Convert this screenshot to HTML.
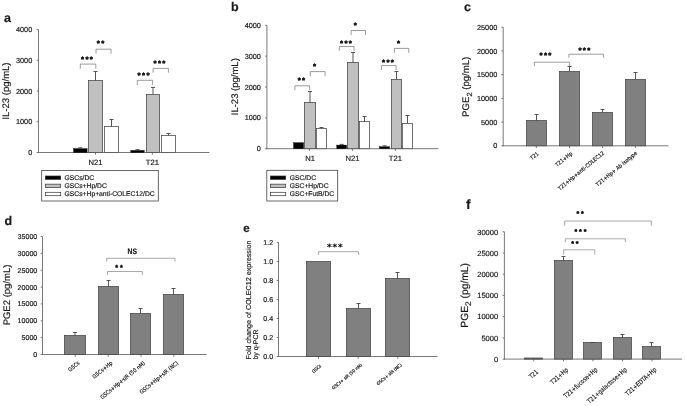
<!DOCTYPE html>
<html lang="en">
<head>
<meta charset="utf-8">
<title>Figure</title>
<style>
html,body{margin:0;padding:0;background:#fff;}
body{width:685px;height:406px;overflow:hidden;font-family:"Liberation Sans",Arial,sans-serif;}
svg{display:block;}
text{stroke:#1a1a1a;stroke-width:0.18px;text-rendering:geometricPrecision;}
.ls{font-family:"Liberation Sans",Arial,Helvetica,sans-serif;}
.dvc{font-family:"DejaVu Sans Condensed","DejaVu Sans","Liberation Sans",sans-serif;}
.dv{font-family:"DejaVu Sans","Liberation Sans",sans-serif;}
</style>
</head>
<body>
<svg width="685" height="406" viewBox="0 0 685 406">
<rect x="0" y="0" width="685" height="406" fill="#ffffff"/>
<g id="pa">
<text x="4" y="22" font-size="12.5" text-anchor="start" font-weight="bold" class="ls" fill="#1a1a1a" >a</text>
<line x1="38.5" y1="29.5" x2="38.5" y2="153.0" stroke="#6a6a6a" stroke-width="0.9"/>
<line x1="36.7" y1="29.5" x2="38.5" y2="29.5" stroke="#6a6a6a" stroke-width="0.9"/>
<text x="32.2" y="32.128" font-size="7.3" text-anchor="end" font-weight="normal" class="ls" fill="#1a1a1a" >4000</text>
<line x1="36.7" y1="60.25" x2="38.5" y2="60.25" stroke="#6a6a6a" stroke-width="0.9"/>
<text x="32.2" y="62.878" font-size="7.3" text-anchor="end" font-weight="normal" class="ls" fill="#1a1a1a" >3000</text>
<line x1="36.7" y1="91.0" x2="38.5" y2="91.0" stroke="#6a6a6a" stroke-width="0.9"/>
<text x="32.2" y="93.628" font-size="7.3" text-anchor="end" font-weight="normal" class="ls" fill="#1a1a1a" >2000</text>
<line x1="36.7" y1="121.75" x2="38.5" y2="121.75" stroke="#6a6a6a" stroke-width="0.9"/>
<text x="32.2" y="124.378" font-size="7.3" text-anchor="end" font-weight="normal" class="ls" fill="#1a1a1a" >1000</text>
<line x1="36.7" y1="152.5" x2="38.5" y2="152.5" stroke="#6a6a6a" stroke-width="0.9"/>
<text x="32.2" y="155.128" font-size="7.3" text-anchor="end" font-weight="normal" class="ls" fill="#1a1a1a" >0</text>
<line x1="38.0" y1="152.5" x2="209.5" y2="152.5" stroke="#6a6a6a" stroke-width="0.9"/>
<line x1="95.5" y1="152.5" x2="95.5" y2="154.7" stroke="#6a6a6a" stroke-width="0.9"/>
<line x1="152.4" y1="152.5" x2="152.4" y2="154.7" stroke="#6a6a6a" stroke-width="0.9"/>
<text transform="translate(9.0,91) rotate(-90)" font-size="9.5" text-anchor="middle" font-weight="normal" class="ls" fill="#1a1a1a" >IL-23 (pg/mL)</text>
<rect x="73.6" y="148.6" width="13.50" height="3.90" fill="#000" stroke="#000" stroke-width="0.4"/>
<line x1="80.35" y1="147.8" x2="80.35" y2="148.6" stroke="#444" stroke-width="0.9"/>
<line x1="78.35" y1="147.8" x2="82.35" y2="147.8" stroke="#444" stroke-width="0.9"/>
<rect x="88.5" y="80.5" width="14.00" height="72.00" fill="#c0c0c0" stroke="#444" stroke-width="0.75"/>
<line x1="95.5" y1="71.5" x2="95.5" y2="80.5" stroke="#444" stroke-width="0.9"/>
<line x1="93.5" y1="71.5" x2="97.5" y2="71.5" stroke="#444" stroke-width="0.9"/>
<rect x="104.5" y="126.5" width="14.00" height="26.00" fill="#fff" stroke="#444" stroke-width="0.75"/>
<line x1="111.5" y1="119.5" x2="111.5" y2="126.5" stroke="#444" stroke-width="0.9"/>
<line x1="109.5" y1="119.5" x2="113.5" y2="119.5" stroke="#444" stroke-width="0.9"/>
<rect x="130.8" y="150.4" width="13.40" height="2.10" fill="#000" stroke="#000" stroke-width="0.4"/>
<line x1="137.5" y1="149.6" x2="137.5" y2="150.4" stroke="#444" stroke-width="0.9"/>
<line x1="135.5" y1="149.6" x2="139.5" y2="149.6" stroke="#444" stroke-width="0.9"/>
<rect x="146.5" y="94.5" width="13.00" height="58.00" fill="#c0c0c0" stroke="#444" stroke-width="0.75"/>
<line x1="153.0" y1="87.5" x2="153.0" y2="94.5" stroke="#444" stroke-width="0.9"/>
<line x1="151.0" y1="87.5" x2="155.0" y2="87.5" stroke="#444" stroke-width="0.9"/>
<rect x="161.5" y="135.5" width="14.00" height="17.00" fill="#fff" stroke="#444" stroke-width="0.75"/>
<line x1="168.5" y1="133.5" x2="168.5" y2="135.5" stroke="#444" stroke-width="0.9"/>
<line x1="166.5" y1="133.5" x2="170.5" y2="133.5" stroke="#444" stroke-width="0.9"/>
<text x="95.5" y="164.8" font-size="7.6" text-anchor="middle" font-weight="normal" class="ls" fill="#1a1a1a" >N21</text>
<text x="152.4" y="164.8" font-size="7.6" text-anchor="middle" font-weight="normal" class="ls" fill="#1a1a1a" >T21</text>
<polyline points="80.3,68.69999999999999 80.3,64.1 95.8,64.1 95.8,68.69999999999999" fill="none" stroke="#666" stroke-width="0.65"/>
<text x="82.50 86.95 91.40" y="61.51" font-size="7.9" text-anchor="middle" font-weight="bold" class="ls" fill="#000" style="stroke:#000;stroke-width:0.4px">***</text>
<polyline points="96.0,53.7 96.0,49.2 111,49.2 111,53.7" fill="none" stroke="#666" stroke-width="0.65"/>
<text x="98.30 102.75" y="46.31" font-size="7.9" text-anchor="middle" font-weight="bold" class="ls" fill="#000" style="stroke:#000;stroke-width:0.4px">**</text>
<polyline points="137.3,84.89999999999999 137.3,80.3 152.6,80.3 152.6,84.89999999999999" fill="none" stroke="#666" stroke-width="0.65"/>
<text x="139.05 143.50 147.95" y="78.11" font-size="7.9" text-anchor="middle" font-weight="bold" class="ls" fill="#000" style="stroke:#000;stroke-width:0.4px">***</text>
<polyline points="153.1,72.7 153.1,68.4 168.4,68.4 168.4,72.7" fill="none" stroke="#666" stroke-width="0.65"/>
<text x="155.00 159.45 163.90" y="65.61" font-size="7.9" text-anchor="middle" font-weight="bold" class="ls" fill="#000" style="stroke:#000;stroke-width:0.4px">***</text>
<rect x="41.7" y="170.4" width="116.6" height="30.6" fill="#fff" stroke="#444" stroke-width="0.8"/>
<rect x="45.3" y="176.0" width="15.4" height="3.4" fill="#000" stroke="#333" stroke-width="0.7"/>
<text x="64.6" y="180.14999999999998" font-size="6.75" text-anchor="start" font-weight="normal" class="ls" fill="#1a1a1a" >GSCs/DC</text>
<rect x="45.3" y="184.15" width="15.4" height="3.4" fill="#c0c0c0" stroke="#333" stroke-width="0.7"/>
<text x="64.6" y="188.29999999999998" font-size="6.75" text-anchor="start" font-weight="normal" class="ls" fill="#1a1a1a" >GSCs+Hp/DC</text>
<rect x="45.3" y="192.3" width="15.4" height="3.4" fill="#fff" stroke="#333" stroke-width="0.7"/>
<text x="64.6" y="196.45" font-size="6.75" text-anchor="start" font-weight="normal" class="ls" fill="#1a1a1a" >GSCs+Hp+anti-COLEC12/DC</text>
</g>
<g id="pb">
<text x="231" y="11.4" font-size="12.5" text-anchor="start" font-weight="bold" class="ls" fill="#1a1a1a" >b</text>
<line x1="266.9" y1="25.3" x2="266.9" y2="149.2" stroke="#6a6a6a" stroke-width="0.9"/>
<line x1="265.09999999999997" y1="25.3" x2="266.9" y2="25.3" stroke="#6a6a6a" stroke-width="0.9"/>
<text x="260.9" y="27.928" font-size="7.3" text-anchor="end" font-weight="normal" class="ls" fill="#1a1a1a" >4000</text>
<line x1="265.09999999999997" y1="56.15" x2="266.9" y2="56.15" stroke="#6a6a6a" stroke-width="0.9"/>
<text x="260.9" y="58.778" font-size="7.3" text-anchor="end" font-weight="normal" class="ls" fill="#1a1a1a" >3000</text>
<line x1="265.09999999999997" y1="87.0" x2="266.9" y2="87.0" stroke="#6a6a6a" stroke-width="0.9"/>
<text x="260.9" y="89.628" font-size="7.3" text-anchor="end" font-weight="normal" class="ls" fill="#1a1a1a" >2000</text>
<line x1="265.09999999999997" y1="117.85" x2="266.9" y2="117.85" stroke="#6a6a6a" stroke-width="0.9"/>
<text x="260.9" y="120.478" font-size="7.3" text-anchor="end" font-weight="normal" class="ls" fill="#1a1a1a" >1000</text>
<line x1="265.09999999999997" y1="148.7" x2="266.9" y2="148.7" stroke="#6a6a6a" stroke-width="0.9"/>
<text x="260.9" y="151.32799999999997" font-size="7.3" text-anchor="end" font-weight="normal" class="ls" fill="#1a1a1a" >0</text>
<line x1="266.4" y1="148.7" x2="438.4" y2="148.7" stroke="#6a6a6a" stroke-width="0.9"/>
<line x1="309.4" y1="148.7" x2="309.4" y2="150.89999999999998" stroke="#6a6a6a" stroke-width="0.9"/>
<line x1="352.4" y1="148.7" x2="352.4" y2="150.89999999999998" stroke="#6a6a6a" stroke-width="0.9"/>
<line x1="395.4" y1="148.7" x2="395.4" y2="150.89999999999998" stroke="#6a6a6a" stroke-width="0.9"/>
<text transform="translate(238.3,86.7) rotate(-90)" font-size="9.5" text-anchor="middle" font-weight="normal" class="ls" fill="#1a1a1a" >IL-23 (pg/mL)</text>
<rect x="293.6" y="142.7" width="10.00" height="6.00" fill="#000" stroke="#000" stroke-width="0.4"/>
<rect x="304.5" y="102.5" width="11.00" height="46.20" fill="#c0c0c0" stroke="#444" stroke-width="0.75"/>
<line x1="310.0" y1="91.5" x2="310.0" y2="102.5" stroke="#444" stroke-width="0.9"/>
<line x1="308.0" y1="91.5" x2="312.0" y2="91.5" stroke="#444" stroke-width="0.9"/>
<rect x="316.5" y="128.5" width="10.00" height="20.20" fill="#fff" stroke="#444" stroke-width="0.75"/>
<line x1="321.5" y1="127.5" x2="321.5" y2="128.5" stroke="#444" stroke-width="0.9"/>
<line x1="319.5" y1="127.5" x2="323.5" y2="127.5" stroke="#444" stroke-width="0.9"/>
<rect x="336.8" y="145.1" width="9.80" height="3.60" fill="#000" stroke="#000" stroke-width="0.4"/>
<line x1="341.70000000000005" y1="144.4" x2="341.70000000000005" y2="145.1" stroke="#444" stroke-width="0.9"/>
<line x1="339.70000000000005" y1="144.4" x2="343.70000000000005" y2="144.4" stroke="#444" stroke-width="0.9"/>
<rect x="347.5" y="62.5" width="11.00" height="86.20" fill="#c0c0c0" stroke="#444" stroke-width="0.75"/>
<line x1="353.0" y1="52.5" x2="353.0" y2="62.5" stroke="#444" stroke-width="0.9"/>
<line x1="351.0" y1="52.5" x2="355.0" y2="52.5" stroke="#444" stroke-width="0.9"/>
<rect x="359.5" y="121.5" width="10.00" height="27.20" fill="#fff" stroke="#444" stroke-width="0.75"/>
<line x1="364.5" y1="116.5" x2="364.5" y2="121.5" stroke="#444" stroke-width="0.9"/>
<line x1="362.5" y1="116.5" x2="366.5" y2="116.5" stroke="#444" stroke-width="0.9"/>
<rect x="379.5" y="146.7" width="10.10" height="2.00" fill="#000" stroke="#000" stroke-width="0.4"/>
<line x1="384.55" y1="145.8" x2="384.55" y2="146.7" stroke="#444" stroke-width="0.9"/>
<line x1="382.55" y1="145.8" x2="386.55" y2="145.8" stroke="#444" stroke-width="0.9"/>
<rect x="391.5" y="79.5" width="10.00" height="69.20" fill="#c0c0c0" stroke="#444" stroke-width="0.75"/>
<line x1="396.5" y1="71.5" x2="396.5" y2="79.5" stroke="#444" stroke-width="0.9"/>
<line x1="394.5" y1="71.5" x2="398.5" y2="71.5" stroke="#444" stroke-width="0.9"/>
<rect x="402.5" y="123.5" width="10.00" height="25.20" fill="#fff" stroke="#444" stroke-width="0.75"/>
<line x1="407.5" y1="115.5" x2="407.5" y2="123.5" stroke="#444" stroke-width="0.9"/>
<line x1="405.5" y1="115.5" x2="409.5" y2="115.5" stroke="#444" stroke-width="0.9"/>
<text x="310.1" y="161.3" font-size="7.6" text-anchor="middle" font-weight="normal" class="ls" fill="#1a1a1a" >N1</text>
<text x="352.4" y="161.3" font-size="7.6" text-anchor="middle" font-weight="normal" class="ls" fill="#1a1a1a" >N21</text>
<text x="395.4" y="161.3" font-size="7.6" text-anchor="middle" font-weight="normal" class="ls" fill="#1a1a1a" >T21</text>
<polyline points="294.9,90.1 294.9,85.8 309.7,85.8 309.7,90.1" fill="none" stroke="#666" stroke-width="0.65"/>
<text x="299.20 303.65" y="83.21" font-size="7.9" text-anchor="middle" font-weight="bold" class="ls" fill="#000" style="stroke:#000;stroke-width:0.4px">**</text>
<polyline points="310.3,76.1 310.3,71.6 325.1,71.6 325.1,76.1" fill="none" stroke="#666" stroke-width="0.65"/>
<text x="314.60" y="69.21" font-size="7.9" text-anchor="middle" font-weight="bold" class="ls" fill="#000" style="stroke:#000;stroke-width:0.4px">*</text>
<polyline points="339.3,50.8 339.3,46.5 354,46.5 354,50.8" fill="none" stroke="#666" stroke-width="0.65"/>
<text x="341.50 345.95 350.40" y="45.81" font-size="7.9" text-anchor="middle" font-weight="bold" class="ls" fill="#000" style="stroke:#000;stroke-width:0.4px">***</text>
<polyline points="351.1,35.0 351.1,30.5 365.5,30.5 365.5,35.0" fill="none" stroke="#666" stroke-width="0.65"/>
<text x="355.40" y="28.01" font-size="7.9" text-anchor="middle" font-weight="bold" class="ls" fill="#000" style="stroke:#000;stroke-width:0.4px">*</text>
<polyline points="381.4,70.1 381.4,65.6 396.1,65.6 396.1,70.1" fill="none" stroke="#666" stroke-width="0.65"/>
<text x="383.50 387.95 392.40" y="65.21" font-size="7.9" text-anchor="middle" font-weight="bold" class="ls" fill="#000" style="stroke:#000;stroke-width:0.4px">***</text>
<polyline points="394.4,52.8 394.4,48.4 408.8,48.4 408.8,52.8" fill="none" stroke="#666" stroke-width="0.65"/>
<text x="398.60" y="45.81" font-size="7.9" text-anchor="middle" font-weight="bold" class="ls" fill="#000" style="stroke:#000;stroke-width:0.4px">*</text>
<rect x="266.8" y="170.3" width="70.9" height="30.7" fill="#fff" stroke="#444" stroke-width="0.8"/>
<rect x="270.4" y="176.0" width="15.3" height="3.4" fill="#000" stroke="#333" stroke-width="0.7"/>
<text x="289.8" y="180.14999999999998" font-size="6.75" text-anchor="start" font-weight="normal" class="ls" fill="#1a1a1a" >GSC/DC</text>
<rect x="270.4" y="184.15" width="15.3" height="3.4" fill="#c0c0c0" stroke="#333" stroke-width="0.7"/>
<text x="289.8" y="188.29999999999998" font-size="6.75" text-anchor="start" font-weight="normal" class="ls" fill="#1a1a1a" >GSC+Hp/DC</text>
<rect x="270.4" y="192.3" width="15.3" height="3.4" fill="#fff" stroke="#333" stroke-width="0.7"/>
<text x="289.8" y="196.45" font-size="6.75" text-anchor="start" font-weight="normal" class="ls" fill="#1a1a1a" >GSC+FutB/DC</text>
</g>
<g id="pc">
<text x="464" y="10.8" font-size="12.5" text-anchor="start" font-weight="bold" class="ls" fill="#1a1a1a" >c</text>
<line x1="503.2" y1="27.2" x2="503.2" y2="146.3" stroke="#6a6a6a" stroke-width="0.9"/>
<line x1="501.4" y1="27.2" x2="503.2" y2="27.2" stroke="#6a6a6a" stroke-width="0.9"/>
<text x="497.3" y="29.828" font-size="7.3" text-anchor="end" font-weight="normal" class="ls" fill="#1a1a1a" >25000</text>
<line x1="501.4" y1="50.92" x2="503.2" y2="50.92" stroke="#6a6a6a" stroke-width="0.9"/>
<text x="497.3" y="53.548" font-size="7.3" text-anchor="end" font-weight="normal" class="ls" fill="#1a1a1a" >20000</text>
<line x1="501.4" y1="74.64" x2="503.2" y2="74.64" stroke="#6a6a6a" stroke-width="0.9"/>
<text x="497.3" y="77.268" font-size="7.3" text-anchor="end" font-weight="normal" class="ls" fill="#1a1a1a" >15000</text>
<line x1="501.4" y1="98.36" x2="503.2" y2="98.36" stroke="#6a6a6a" stroke-width="0.9"/>
<text x="497.3" y="100.988" font-size="7.3" text-anchor="end" font-weight="normal" class="ls" fill="#1a1a1a" >10000</text>
<line x1="501.4" y1="122.08" x2="503.2" y2="122.08" stroke="#6a6a6a" stroke-width="0.9"/>
<text x="497.3" y="124.708" font-size="7.3" text-anchor="end" font-weight="normal" class="ls" fill="#1a1a1a" >5000</text>
<line x1="501.4" y1="145.8" x2="503.2" y2="145.8" stroke="#6a6a6a" stroke-width="0.9"/>
<text x="497.3" y="148.428" font-size="7.3" text-anchor="end" font-weight="normal" class="ls" fill="#1a1a1a" >0</text>
<line x1="502.7" y1="145.8" x2="668.4" y2="145.8" stroke="#6a6a6a" stroke-width="0.9"/>
<line x1="536.3" y1="145.8" x2="536.3" y2="148.0" stroke="#6a6a6a" stroke-width="0.9"/>
<line x1="569.5" y1="145.8" x2="569.5" y2="148.0" stroke="#6a6a6a" stroke-width="0.9"/>
<line x1="602.5" y1="145.8" x2="602.5" y2="148.0" stroke="#6a6a6a" stroke-width="0.9"/>
<line x1="635.6" y1="145.8" x2="635.6" y2="148.0" stroke="#6a6a6a" stroke-width="0.9"/>
<text transform="translate(468.9,86.8) rotate(-90)" font-size="9.6" text-anchor="middle" class="ls" fill="#1a1a1a">PGE<tspan font-size="7.5" dy="3">2</tspan><tspan dy="-3"> (pg/mL)</tspan></text>
<rect x="526.5" y="120.5" width="20.00" height="25.30" fill="#808080" stroke="#444" stroke-width="0.75"/>
<line x1="536.5" y1="114.5" x2="536.5" y2="120.5" stroke="#444" stroke-width="0.9"/>
<line x1="534.5" y1="114.5" x2="538.5" y2="114.5" stroke="#444" stroke-width="0.9"/>
<rect x="559.5" y="71.5" width="20.00" height="74.30" fill="#808080" stroke="#444" stroke-width="0.75"/>
<line x1="569.5" y1="66.5" x2="569.5" y2="71.5" stroke="#444" stroke-width="0.9"/>
<line x1="567.5" y1="66.5" x2="571.5" y2="66.5" stroke="#444" stroke-width="0.9"/>
<rect x="592.5" y="112.5" width="20.00" height="33.30" fill="#808080" stroke="#444" stroke-width="0.75"/>
<line x1="602.5" y1="109.5" x2="602.5" y2="112.5" stroke="#444" stroke-width="0.9"/>
<line x1="600.5" y1="109.5" x2="604.5" y2="109.5" stroke="#444" stroke-width="0.9"/>
<rect x="625.5" y="79.5" width="20.00" height="66.30" fill="#808080" stroke="#444" stroke-width="0.75"/>
<line x1="635.5" y1="72.5" x2="635.5" y2="79.5" stroke="#444" stroke-width="0.9"/>
<line x1="633.5" y1="72.5" x2="637.5" y2="72.5" stroke="#444" stroke-width="0.9"/>
<polyline points="534.4,65.9 534.4,62.2 569.4,62.2 569.4,66.8" fill="none" stroke="#666" stroke-width="0.65"/>
<text x="541.10 545.50 549.90" y="57.91" font-size="7.9" text-anchor="middle" font-weight="bold" class="ls" fill="#000" style="stroke:#000;stroke-width:0.4px">***</text>
<polyline points="568.9,57.6 568.9,54.2 603.6,54.2 603.6,57.6" fill="none" stroke="#666" stroke-width="0.65"/>
<text x="580.00 584.40 588.80" y="52.51" font-size="7.9" text-anchor="middle" font-weight="bold" class="ls" fill="#000" style="stroke:#000;stroke-width:0.4px">***</text>
<text transform="translate(539.1,154.4) rotate(-39.5)" font-size="5.45" text-anchor="end" font-weight="normal" class="dvc" fill="#1a1a1a" >T21</text>
<text transform="translate(572.8,154.2) rotate(-39.5)" font-size="5.45" text-anchor="end" font-weight="normal" class="dvc" fill="#1a1a1a" >T21+Hp</text>
<text transform="translate(604.7,153.7) rotate(-39.5)" font-size="5.45" text-anchor="end" font-weight="normal" class="dvc" fill="#1a1a1a" >T21+Hp+anti-COLEC12</text>
<text transform="translate(637.6,153.9) rotate(-39.5)" font-size="5.45" text-anchor="end" font-weight="normal" class="dvc" fill="#1a1a1a" >T21+Hp+ Ab isotype</text>
</g>
<g id="pd">
<text x="4.6" y="224.6" font-size="12.5" text-anchor="start" font-weight="bold" class="ls" fill="#1a1a1a" >d</text>
<line x1="42.5" y1="236.5" x2="42.5" y2="355.0" stroke="#6a6a6a" stroke-width="0.9"/>
<line x1="40.7" y1="236.5" x2="42.5" y2="236.5" stroke="#6a6a6a" stroke-width="0.9"/>
<text x="37.3" y="239.056" font-size="7.1" text-anchor="end" font-weight="normal" class="ls" fill="#1a1a1a" >35000</text>
<line x1="40.7" y1="253.36" x2="42.5" y2="253.36" stroke="#6a6a6a" stroke-width="0.9"/>
<text x="37.3" y="255.91600000000003" font-size="7.1" text-anchor="end" font-weight="normal" class="ls" fill="#1a1a1a" >30000</text>
<line x1="40.7" y1="270.21" x2="42.5" y2="270.21" stroke="#6a6a6a" stroke-width="0.9"/>
<text x="37.3" y="272.76599999999996" font-size="7.1" text-anchor="end" font-weight="normal" class="ls" fill="#1a1a1a" >25000</text>
<line x1="40.7" y1="287.07" x2="42.5" y2="287.07" stroke="#6a6a6a" stroke-width="0.9"/>
<text x="37.3" y="289.626" font-size="7.1" text-anchor="end" font-weight="normal" class="ls" fill="#1a1a1a" >20000</text>
<line x1="40.7" y1="303.93" x2="42.5" y2="303.93" stroke="#6a6a6a" stroke-width="0.9"/>
<text x="37.3" y="306.486" font-size="7.1" text-anchor="end" font-weight="normal" class="ls" fill="#1a1a1a" >15000</text>
<line x1="40.7" y1="320.79" x2="42.5" y2="320.79" stroke="#6a6a6a" stroke-width="0.9"/>
<text x="37.3" y="323.346" font-size="7.1" text-anchor="end" font-weight="normal" class="ls" fill="#1a1a1a" >10000</text>
<line x1="40.7" y1="337.64" x2="42.5" y2="337.64" stroke="#6a6a6a" stroke-width="0.9"/>
<text x="37.3" y="340.19599999999997" font-size="7.1" text-anchor="end" font-weight="normal" class="ls" fill="#1a1a1a" >5000</text>
<line x1="40.7" y1="354.5" x2="42.5" y2="354.5" stroke="#6a6a6a" stroke-width="0.9"/>
<text x="37.3" y="357.056" font-size="7.1" text-anchor="end" font-weight="normal" class="ls" fill="#1a1a1a" >0</text>
<line x1="42.0" y1="354.5" x2="206.6" y2="354.5" stroke="#6a6a6a" stroke-width="0.9"/>
<line x1="75.2" y1="354.5" x2="75.2" y2="356.7" stroke="#6a6a6a" stroke-width="0.9"/>
<line x1="108.2" y1="354.5" x2="108.2" y2="356.7" stroke="#6a6a6a" stroke-width="0.9"/>
<line x1="141" y1="354.5" x2="141" y2="356.7" stroke="#6a6a6a" stroke-width="0.9"/>
<line x1="173.8" y1="354.5" x2="173.8" y2="356.7" stroke="#6a6a6a" stroke-width="0.9"/>
<text transform="translate(9.9,295) rotate(-90)" font-size="9.5" text-anchor="middle" font-weight="normal" class="ls" fill="#1a1a1a" >PGE2 (pg/mL)</text>
<rect x="64.5" y="335.5" width="21.00" height="19.00" fill="#808080" stroke="#444" stroke-width="0.75"/>
<line x1="75.0" y1="332.5" x2="75.0" y2="335.5" stroke="#444" stroke-width="0.9"/>
<line x1="73.0" y1="332.5" x2="77.0" y2="332.5" stroke="#444" stroke-width="0.9"/>
<rect x="98.5" y="286.5" width="20.00" height="68.00" fill="#808080" stroke="#444" stroke-width="0.75"/>
<line x1="108.5" y1="280.5" x2="108.5" y2="286.5" stroke="#444" stroke-width="0.9"/>
<line x1="106.5" y1="280.5" x2="110.5" y2="280.5" stroke="#444" stroke-width="0.9"/>
<rect x="130.5" y="313.5" width="20.00" height="41.00" fill="#808080" stroke="#444" stroke-width="0.75"/>
<line x1="140.5" y1="308.5" x2="140.5" y2="313.5" stroke="#444" stroke-width="0.9"/>
<line x1="138.5" y1="308.5" x2="142.5" y2="308.5" stroke="#444" stroke-width="0.9"/>
<rect x="163.5" y="294.5" width="20.00" height="60.00" fill="#808080" stroke="#444" stroke-width="0.75"/>
<line x1="173.5" y1="288.5" x2="173.5" y2="294.5" stroke="#444" stroke-width="0.9"/>
<line x1="171.5" y1="288.5" x2="175.5" y2="288.5" stroke="#444" stroke-width="0.9"/>
<polyline points="106.7,261.6 106.7,258.3 175,258.3 175,261.6" fill="none" stroke="#9a9a9a" stroke-width="0.85"/>
<text x="127.6" y="253.6" font-size="7.9" text-anchor="start" font-weight="bold" class="ls" fill="#1a1a1a" textLength="9.4" lengthAdjust="spacingAndGlyphs">NS</text>
<polyline points="107.4,275.0 107.4,271.5 142.3,271.5 142.3,275.0" fill="none" stroke="#9a9a9a" stroke-width="0.85"/>
<text x="116.70 121.40" y="270.04" font-size="7.2" text-anchor="middle" font-weight="bold" class="ls" fill="#000" style="stroke:#000;stroke-width:0.4px">**</text>
<text transform="translate(80.1,363.7) rotate(-39.5)" font-size="5.5" text-anchor="end" font-weight="normal" class="dvc" fill="#1a1a1a" >GSCs</text>
<text transform="translate(112.89999999999999,363.7) rotate(-39.5)" font-size="5.5" text-anchor="end" font-weight="normal" class="dvc" fill="#1a1a1a" >GSCs+Hp</text>
<text transform="translate(145.60000000000002,363.7) rotate(-39.5)" font-size="5.5" text-anchor="end" font-weight="normal" class="dvc" fill="#1a1a1a" >GSCs+Hp+siR (50 nM)</text>
<text transform="translate(178.70000000000002,363.7) rotate(-39.5)" font-size="5.5" text-anchor="end" font-weight="normal" class="dvc" fill="#1a1a1a" >GSCs+Hp+siR (NC)</text>
</g>
<g id="pe">
<text x="243.2" y="232.4" font-size="11.6" text-anchor="start" font-weight="bold" class="ls" fill="#1a1a1a" >e</text>
<line x1="278.5" y1="242.4" x2="278.5" y2="357.0" stroke="#6a6a6a" stroke-width="0.9"/>
<line x1="276.7" y1="242.4" x2="278.5" y2="242.4" stroke="#6a6a6a" stroke-width="0.9"/>
<text x="273.2" y="244.95600000000002" font-size="7.1" text-anchor="end" font-weight="normal" class="ls" fill="#1a1a1a" >1.2</text>
<line x1="276.7" y1="261.42" x2="278.5" y2="261.42" stroke="#6a6a6a" stroke-width="0.9"/>
<text x="273.2" y="263.976" font-size="7.1" text-anchor="end" font-weight="normal" class="ls" fill="#1a1a1a" >1.0</text>
<line x1="276.7" y1="280.43" x2="278.5" y2="280.43" stroke="#6a6a6a" stroke-width="0.9"/>
<text x="273.2" y="282.986" font-size="7.1" text-anchor="end" font-weight="normal" class="ls" fill="#1a1a1a" >0.8</text>
<line x1="276.7" y1="299.45" x2="278.5" y2="299.45" stroke="#6a6a6a" stroke-width="0.9"/>
<text x="273.2" y="302.006" font-size="7.1" text-anchor="end" font-weight="normal" class="ls" fill="#1a1a1a" >0.6</text>
<line x1="276.7" y1="318.47" x2="278.5" y2="318.47" stroke="#6a6a6a" stroke-width="0.9"/>
<text x="273.2" y="321.026" font-size="7.1" text-anchor="end" font-weight="normal" class="ls" fill="#1a1a1a" >0.4</text>
<line x1="276.7" y1="337.48" x2="278.5" y2="337.48" stroke="#6a6a6a" stroke-width="0.9"/>
<text x="273.2" y="340.036" font-size="7.1" text-anchor="end" font-weight="normal" class="ls" fill="#1a1a1a" >0.2</text>
<line x1="276.7" y1="356.5" x2="278.5" y2="356.5" stroke="#6a6a6a" stroke-width="0.9"/>
<text x="273.2" y="359.056" font-size="7.1" text-anchor="end" font-weight="normal" class="ls" fill="#1a1a1a" >0.0</text>
<line x1="278.0" y1="356.5" x2="437.5" y2="356.5" stroke="#6a6a6a" stroke-width="0.9"/>
<line x1="318.5" y1="356.5" x2="318.5" y2="358.7" stroke="#6a6a6a" stroke-width="0.9"/>
<line x1="358.2" y1="356.5" x2="358.2" y2="358.7" stroke="#6a6a6a" stroke-width="0.9"/>
<line x1="397.8" y1="356.5" x2="397.8" y2="358.7" stroke="#6a6a6a" stroke-width="0.9"/>
<text transform="translate(251.0,359.5) rotate(-90)" font-size="7.2" text-anchor="start" font-weight="normal" class="ls" fill="#1a1a1a" textLength="119" lengthAdjust="spacingAndGlyphs">Fold change of COLEC12 expression</text>
<text transform="translate(258.4,359.5) rotate(-90)" font-size="6.9" text-anchor="start" font-weight="normal" class="ls" fill="#1a1a1a" >by q-PCR</text>
<rect x="306.5" y="261.5" width="24.00" height="95.00" fill="#808080" stroke="#444" stroke-width="0.75"/>
<rect x="346.5" y="308.5" width="24.00" height="48.00" fill="#808080" stroke="#444" stroke-width="0.75"/>
<line x1="358.5" y1="303.5" x2="358.5" y2="308.5" stroke="#444" stroke-width="0.9"/>
<line x1="356.5" y1="303.5" x2="360.5" y2="303.5" stroke="#444" stroke-width="0.9"/>
<rect x="385.5" y="278.5" width="24.00" height="78.00" fill="#808080" stroke="#444" stroke-width="0.75"/>
<line x1="397.5" y1="272.5" x2="397.5" y2="278.5" stroke="#444" stroke-width="0.9"/>
<line x1="395.5" y1="272.5" x2="399.5" y2="272.5" stroke="#444" stroke-width="0.9"/>
<polyline points="318.3,254.89999999999998 318.3,251.7 358.7,251.7 358.7,254.89999999999998" fill="none" stroke="#9a9a9a" stroke-width="0.85"/>
<text x="329.40 334.85 340.30" y="249.50" font-size="8.8" text-anchor="middle" font-weight="bold" class="dv" fill="#000" style="stroke:#000;stroke-width:0.1px">***</text>
<text transform="translate(321.7,366.4) rotate(-40)" font-size="4.45" text-anchor="end" font-weight="normal" class="dvc" fill="#1a1a1a" >GSCs</text>
<text transform="translate(362.5,365.5) rotate(-40)" font-size="4.45" text-anchor="end" font-weight="normal" class="dvc" fill="#1a1a1a" >GSCs+ siR (50 nM)</text>
<text transform="translate(402.09999999999997,365.5) rotate(-40)" font-size="4.45" text-anchor="end" font-weight="normal" class="dvc" fill="#1a1a1a" >GSCs+ siR (NC)</text>
</g>
<g id="pf">
<text x="465.9" y="208.7" font-size="13.6" text-anchor="start" font-weight="bold" class="ls" fill="#1a1a1a" >f</text>
<line x1="504.4" y1="231.8" x2="504.4" y2="359.6" stroke="#6a6a6a" stroke-width="0.9"/>
<line x1="502.59999999999997" y1="231.8" x2="504.4" y2="231.8" stroke="#6a6a6a" stroke-width="0.9"/>
<text x="498.09999999999997" y="234.5" font-size="7.5" text-anchor="end" font-weight="normal" class="ls" fill="#1a1a1a" >30000</text>
<line x1="502.59999999999997" y1="253.02" x2="504.4" y2="253.02" stroke="#6a6a6a" stroke-width="0.9"/>
<text x="498.09999999999997" y="255.72" font-size="7.5" text-anchor="end" font-weight="normal" class="ls" fill="#1a1a1a" >25000</text>
<line x1="502.59999999999997" y1="274.23" x2="504.4" y2="274.23" stroke="#6a6a6a" stroke-width="0.9"/>
<text x="498.09999999999997" y="276.93" font-size="7.5" text-anchor="end" font-weight="normal" class="ls" fill="#1a1a1a" >20000</text>
<line x1="502.59999999999997" y1="295.45" x2="504.4" y2="295.45" stroke="#6a6a6a" stroke-width="0.9"/>
<text x="498.09999999999997" y="298.15" font-size="7.5" text-anchor="end" font-weight="normal" class="ls" fill="#1a1a1a" >15000</text>
<line x1="502.59999999999997" y1="316.67" x2="504.4" y2="316.67" stroke="#6a6a6a" stroke-width="0.9"/>
<text x="498.09999999999997" y="319.37" font-size="7.5" text-anchor="end" font-weight="normal" class="ls" fill="#1a1a1a" >10000</text>
<line x1="502.59999999999997" y1="337.88" x2="504.4" y2="337.88" stroke="#6a6a6a" stroke-width="0.9"/>
<text x="498.09999999999997" y="340.58" font-size="7.5" text-anchor="end" font-weight="normal" class="ls" fill="#1a1a1a" >5000</text>
<line x1="502.59999999999997" y1="359.1" x2="504.4" y2="359.1" stroke="#6a6a6a" stroke-width="0.9"/>
<text x="498.09999999999997" y="361.8" font-size="7.5" text-anchor="end" font-weight="normal" class="ls" fill="#1a1a1a" >0</text>
<line x1="503.9" y1="359.1" x2="682.2" y2="359.1" stroke="#6a6a6a" stroke-width="0.9"/>
<line x1="533.8" y1="359.1" x2="533.8" y2="361.3" stroke="#6a6a6a" stroke-width="0.9"/>
<line x1="563.5" y1="359.1" x2="563.5" y2="361.3" stroke="#6a6a6a" stroke-width="0.9"/>
<line x1="593" y1="359.1" x2="593" y2="361.3" stroke="#6a6a6a" stroke-width="0.9"/>
<line x1="622.5" y1="359.1" x2="622.5" y2="361.3" stroke="#6a6a6a" stroke-width="0.9"/>
<line x1="652" y1="359.1" x2="652" y2="361.3" stroke="#6a6a6a" stroke-width="0.9"/>
<text transform="translate(467.6,295.3) rotate(-90)" font-size="10.3" text-anchor="middle" class="ls" fill="#1a1a1a">PGE<tspan font-size="8.2" dy="3.4">2</tspan><tspan dy="-3.4"> (pg/mL)</tspan></text>
<rect x="524.5" y="358" width="18.00" height="1.10" fill="#808080" stroke="#444" stroke-width="0.75"/>
<rect x="554.5" y="260.5" width="18.00" height="98.60" fill="#808080" stroke="#444" stroke-width="0.75"/>
<line x1="563.5" y1="256.5" x2="563.5" y2="260.5" stroke="#444" stroke-width="0.9"/>
<line x1="561.5" y1="256.5" x2="565.5" y2="256.5" stroke="#444" stroke-width="0.9"/>
<rect x="583.5" y="342.5" width="18.00" height="16.60" fill="#808080" stroke="#444" stroke-width="0.75"/>
<line x1="592.5" y1="342.5" x2="592.5" y2="342.5" stroke="#444" stroke-width="0.9"/>
<line x1="590.5" y1="342.5" x2="594.5" y2="342.5" stroke="#444" stroke-width="0.9"/>
<rect x="613.5" y="337.5" width="18.00" height="21.60" fill="#808080" stroke="#444" stroke-width="0.75"/>
<line x1="622.5" y1="334.5" x2="622.5" y2="337.5" stroke="#444" stroke-width="0.9"/>
<line x1="620.5" y1="334.5" x2="624.5" y2="334.5" stroke="#444" stroke-width="0.9"/>
<rect x="642.5" y="346.5" width="18.00" height="12.60" fill="#808080" stroke="#444" stroke-width="0.75"/>
<line x1="651.5" y1="342.5" x2="651.5" y2="346.5" stroke="#444" stroke-width="0.9"/>
<line x1="649.5" y1="342.5" x2="653.5" y2="342.5" stroke="#444" stroke-width="0.9"/>
<polyline points="564.7,225.8 564.7,221 651.4,221 651.4,225.8" fill="none" stroke="#9a9a9a" stroke-width="0.85"/>
<text x="577.80 582.40" y="216.04" font-size="7.0" text-anchor="middle" font-weight="bold" class="ls" fill="#000" style="stroke:#000;stroke-width:0.4px">**</text>
<polyline points="565.3,242.10000000000002 565.3,238.8 625.4,238.8 625.4,242.10000000000002" fill="none" stroke="#9a9a9a" stroke-width="0.85"/>
<text x="575.80 580.45 585.10" y="233.54" font-size="7.0" text-anchor="middle" font-weight="bold" class="ls" fill="#000" style="stroke:#000;stroke-width:0.4px">***</text>
<polyline points="563.7,254.70000000000002 563.7,249.8 594.8,249.8 594.8,254.70000000000002" fill="none" stroke="#9a9a9a" stroke-width="0.85"/>
<text x="572.50 577.00" y="246.04" font-size="7.0" text-anchor="middle" font-weight="bold" class="ls" fill="#000" style="stroke:#000;stroke-width:0.4px">**</text>
<text transform="translate(538.8,372.6) rotate(-41.5) scale(0.9,1)" font-size="6.4" text-anchor="end" class="dvc" fill="#1a1a1a">T21</text>
<text transform="translate(568.7,370.6) rotate(-41.5) scale(0.9,1)" font-size="6.4" text-anchor="end" class="dvc" fill="#1a1a1a">T21+Hp</text>
<text transform="translate(598.0,370.3) rotate(-41.5) scale(0.9,1)" font-size="6.4" text-anchor="end" class="dvc" fill="#1a1a1a">T21+fucose+Hp</text>
<text transform="translate(627.5,370.3) rotate(-41.5) scale(0.9,1)" font-size="6.4" text-anchor="end" class="dvc" fill="#1a1a1a">T21+galactose+Hp</text>
<text transform="translate(657.0,370.3) rotate(-41.5) scale(0.9,1)" font-size="6.4" text-anchor="end" class="dvc" fill="#1a1a1a">T21+EDTA+Hp</text>
</g>
</svg>
</body>
</html>
